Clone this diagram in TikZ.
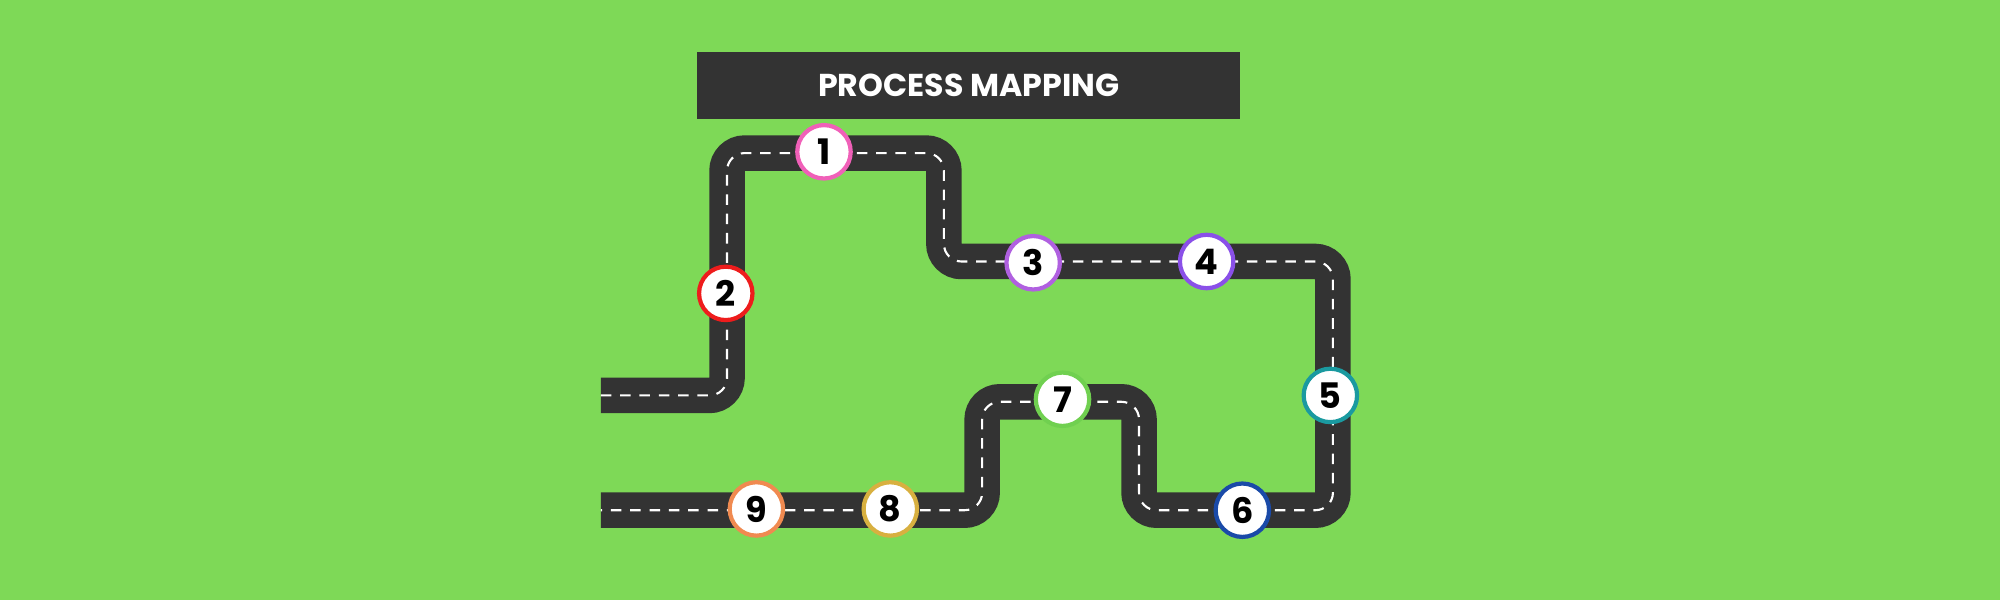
\documentclass[tikz,border=0pt]{standalone}
\usepackage{fontspec}
\setmainfont{Poppins}
\definecolor{bg}{HTML}{7ED957}
\definecolor{road}{HTML}{333333}
\definecolor{c1}{HTML}{F060B8}
\definecolor{c2}{HTML}{EE1C1C}
\definecolor{c3}{HTML}{B060E0}
\definecolor{c4}{HTML}{8A50E8}
\definecolor{c5}{HTML}{1A9AA0}
\definecolor{c6}{HTML}{1A4AA8}
\definecolor{c7}{HTML}{70D050}
\definecolor{c8}{HTML}{D8B040}
\definecolor{c9}{HTML}{F08A50}
\begin{document}
\begin{tikzpicture}[x=0.012755cm,y=-0.012755cm,
  stop/.style={circle,fill=white,draw=#1,line width=1.2pt,minimum size=15.2pt,inner sep=0pt,font=\fontsize{10}{10}\selectfont\bfseries}]
\fill[bg] (0,0) rectangle (1568,470);
\useasboundingbox (0,0) rectangle (1568,470);
\node[fill=road,minimum width=427*0.3616pt,minimum height=52*0.3616pt,text=white,font=\fontsize{9}{9}\selectfont\bfseries] (title) at (759.5,67) {PROCESS MAPPING};
\def\roadpath{(471,310) -- (570,310) -- (570,120) -- (740,120) -- (740,205) -- (1045,205) -- (1045,400) -- (893,400) -- (893,315) -- (770,315) -- (770,400) -- (471,400)}
\draw[road,line width=10.1pt,rounded corners=5pt] \roadpath;
\draw[white,line width=0.6pt,dash pattern=on 3pt off 2.5pt,rounded corners=5pt] \roadpath;
\node[stop=c1] (n1) at (646,119) {1};
\node[stop=c2] (n2) at (569,230) {2};
\node[stop=c3] (n3) at (810,206) {3};
\node[stop=c4] (n4) at (946,205) {4};
\node[stop=c5] (n5) at (1043,310) {5};
\node[stop=c6] (n6) at (974,400) {6};
\node[stop=c7] (n7) at (833,313) {7};
\node[stop=c8] (n8) at (698,399) {8};
\node[stop=c9] (n9) at (593,399) {9};
\end{tikzpicture}
\end{document}
